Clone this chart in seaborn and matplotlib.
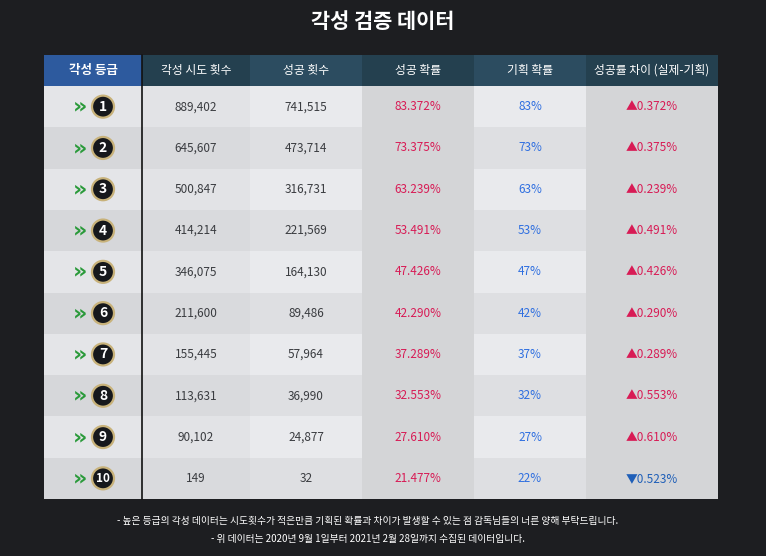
import matplotlib
matplotlib.use("Agg")
import matplotlib.pyplot as plt
from matplotlib.patches import Rectangle, Circle
import seaborn as sns
import numpy as np

sns.set_theme(style="white")
FONT = "Noto Sans CJK KR"
plt.rcParams["font.family"] = FONT

title = "각성 검증 데이터"
headers = ["각성 등급", "각성 시도 횟수", "성공 횟수", "성공 확률", "기획 확률", "성공률 차이 (실제-기획)"]
grades = [1, 2, 3, 4, 5, 6, 7, 8, 9, 10]
attempts = ["889,402", "645,607", "500,847", "414,214", "346,075", "211,600", "155,445", "113,631", "90,102", "149"]
successes = ["741,515", "473,714", "316,731", "221,569", "164,130", "89,486", "57,964", "36,990", "24,877", "32"]
success_rate = ["83.372%", "73.375%", "63.239%", "53.491%", "47.426%", "42.290%", "37.289%", "32.553%", "27.610%", "21.477%"]
planned_rate = ["83%", "73%", "63%", "53%", "47%", "42%", "37%", "32%", "27%", "22%"]
diff_up = [True, True, True, True, True, True, True, True, True, False]
diff_val = ["0.372%", "0.375%", "0.239%", "0.491%", "0.426%", "0.290%", "0.289%", "0.553%", "0.610%", "0.523%"]
notes = ["- 높은 등급의 각성 데이터는 시도횟수가 적은만큼 기획된 확률과 차이가 발생할 수 있는 점 감독님들의 너른 양해 부탁드립니다.",
         "- 위 데이터는 2020년 9월 1일부터 2021년 2월 28일까지 수집된 데이터입니다."]

W, H = 766, 556
fig = plt.figure(figsize=(W / 100, H / 100), dpi=100)
fig.patch.set_facecolor("#1d1e21")
ax = fig.add_axes([0, 0, 1, 1])
ax.set_xlim(0, W)
ax.set_ylim(H, 0)
ax.axis("off")
ax.set_facecolor("#1d1e21")

cols = [44, 142, 250, 362, 474, 586, 718]
hy0, hy1 = 55, 86
rh = 41.3
hdr_colors = ["#2d5a9e", "#24404f", "#2c4c60", "#24404f", "#2c4c60", "#24404f"]

ax.text(W / 2, 22, title, color="white", fontsize=15, fontweight="bold", ha="center", va="center")

for j in range(6):
    ax.add_patch(Rectangle((cols[j], hy0), cols[j + 1] - cols[j], hy1 - hy0, color=hdr_colors[j], lw=0))
    ax.text((cols[j] + cols[j + 1]) / 2, (hy0 + hy1) / 2, headers[j], color="white",
            fontsize=8.5 if j else 9, fontweight="bold" if j == 0 else "normal", ha="center", va="center")

for i, g in enumerate(grades):
    y0 = hy1 + i * rh
    yc = y0 + rh / 2
    even = i % 2 == 0
    fills = [("#e4e5e8" if even else "#d6d7da"),
             ("#e2e3e6" if even else "#d9dadd"),
             ("#e9eaed" if even else "#dedfe2"),
             "#d4d5d7",
             ("#e9eaed" if even else "#dedfe2"),
             "#d4d5d7"]
    for j in range(6):
        ax.add_patch(Rectangle((cols[j], y0), cols[j + 1] - cols[j], rh, color=fills[j], lw=0))
    # chevrons
    ax.text(80, yc, "»", color="#2a9a3a", fontsize=16, fontweight="bold", ha="center", va="center",
            family="DejaVu Sans")
    ax.add_patch(Circle((103, yc), 11, facecolor="#16181c", edgecolor="#c8b27a", lw=1.6))
    ax.text(103, yc, str(g), color="white", fontsize=10 if g < 10 else 8.5, fontweight="bold",
            ha="center", va="center")
    ax.text(196, yc, attempts[i], color="#3a3c40", fontsize=8.5, ha="center", va="center")
    ax.text(306, yc, successes[i], color="#3a3c40", fontsize=8.5, ha="center", va="center")
    ax.text(418, yc, success_rate[i], color="#d81b55", fontsize=8.5, ha="center", va="center")
    ax.text(530, yc, planned_rate[i], color="#2f6fe0", fontsize=8.5, ha="center", va="center")
    sym = "▲" if diff_up[i] else "▼"
    ax.text(652, yc, sym + diff_val[i], color="#d81b55" if diff_up[i] else "#1f5fb8",
            fontsize=8.5, ha="center", va="center", family=["DejaVu Sans"] if False else FONT)

ax.plot([142, 142], [hy0, hy1 + 10 * rh], color="#111111", lw=1.2)
ax.text(368, 521, notes[0], color="white", fontsize=7, ha="center", va="center")
ax.text(368, 539, notes[1], color="white", fontsize=7, ha="center", va="center")

fig.savefig("out.png", dpi=100, facecolor=fig.get_facecolor())
